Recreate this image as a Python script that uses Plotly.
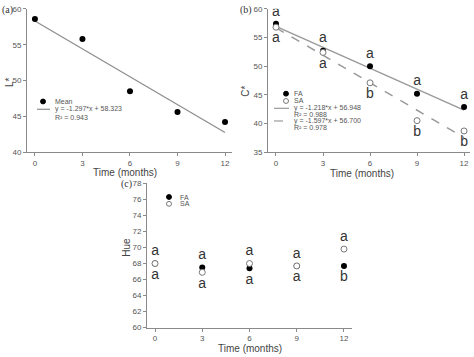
import plotly.graph_objects as go

# ---------------- data ----------------
months = [0, 3, 6, 9, 12]
month_ticks = ["0", "3", "6", "9", "12"]

# (a) L*
L_mean = [58.6, 55.8, 48.5, 45.6, 44.2]
L_fit = (-1.297, 58.323)
L_fit_label = "y = -1.297*x + 58.323"
L_r2_label = "R² = 0.943"

# (b) C*
C_FA = [57.4, 52.7, 50.0, 45.2, 42.9]
C_SA = [56.8, 52.4, 47.1, 40.5, 38.7]
C_FA_letters = ["a", "a", "a", "a", "a"]
C_SA_letters = ["a", "a", "b", "b", "b"]
C_FA_fit = (-1.218, 56.948)
C_SA_fit = (-1.597, 56.700)
C_FA_fit_label = "y = -1.218*x + 56.948"
C_FA_r2_label = "R² = 0.988"
C_SA_fit_label = "y = -1.597*x + 56.700"
C_SA_r2_label = "R² = 0.978"

# (c) Hue
H_FA = [68.0, 67.5, 67.4, 67.7, 67.7]
H_SA = [68.0, 66.9, 68.0, 67.7, 69.8]
H_FA_letters = ["a", "a", "a", "a", "b"]
H_SA_letters = ["a", "a", "a", "a", "a"]

W, H = 474, 357
FONT = "Liberation Sans, Arial, sans-serif"
SERIF = "Liberation Serif, Times New Roman, serif"
AX = "#8a8a8a"
TXT = "#555555"


def px(x):
    return x / W


def py(y):
    return 1 - y / H


fig = go.Figure()

# domains
dom = {
    "a": dict(x=[px(27), px(232)], y=[py(152), py(5)]),
    "b": dict(x=[px(268), px(470)], y=[py(152), py(5)]),
    "c": dict(x=[px(147), px(352)], y=[py(332), py(184)]),
}

fill_marker = dict(symbol="circle", size=6, color="black")
open_marker = dict(symbol="circle", size=6, color="white", line=dict(color="#777777", width=1))
letter_font = dict(family=FONT, size=14, color="#333333")

# ---- (a)
fig.add_trace(go.Scatter(x=[months[0], months[-1]],
                         y=[L_fit[0] * months[0] + L_fit[1], L_fit[0] * months[-1] + L_fit[1]],
                         mode="lines", line=dict(color="#8c8c8c", width=1.2),
                         xaxis="x", yaxis="y", showlegend=False))
fig.add_trace(go.Scatter(x=months, y=L_mean, mode="markers", marker=fill_marker,
                         xaxis="x", yaxis="y", showlegend=False))

# ---- (b)
fig.add_trace(go.Scatter(x=[months[0], months[-1]],
                         y=[C_FA_fit[0] * months[0] + C_FA_fit[1], C_FA_fit[0] * months[-1] + C_FA_fit[1]],
                         mode="lines", line=dict(color="#9a9a9a", width=1.5),
                         xaxis="x2", yaxis="y2", showlegend=False))
fig.add_trace(go.Scatter(x=[months[0], months[-1]],
                         y=[C_SA_fit[0] * months[0] + C_SA_fit[1], C_SA_fit[0] * months[-1] + C_SA_fit[1]],
                         mode="lines", line=dict(color="#9a9a9a", width=1.5, dash="dash"),
                         xaxis="x2", yaxis="y2", showlegend=False))
fig.add_trace(go.Scatter(x=months, y=C_FA, mode="markers+text", marker=fill_marker,
                         text=C_FA_letters, textposition="top center", textfont=letter_font,
                         xaxis="x2", yaxis="y2", showlegend=False))
fig.add_trace(go.Scatter(x=months, y=C_SA, mode="markers+text", marker=open_marker,
                         text=C_SA_letters, textposition="bottom center", textfont=letter_font,
                         xaxis="x2", yaxis="y2", showlegend=False))

# ---- (c)
fig.add_trace(go.Scatter(x=months, y=H_FA, mode="markers+text", marker=fill_marker,
                         text=H_FA_letters,
                         textposition=["bottom center", "top center", "bottom center", "bottom center", "bottom center"],
                         textfont=letter_font, xaxis="x3", yaxis="y3", showlegend=False))
fig.add_trace(go.Scatter(x=months, y=H_SA, mode="markers+text", marker=open_marker,
                         text=H_SA_letters,
                         textposition=["top center", "bottom center", "top center", "top center", "top center"],
                         textfont=letter_font, xaxis="x3", yaxis="y3", showlegend=False))


def xaxis(domain, rng, anchor):
    return dict(domain=domain, range=rng, anchor=anchor, tickvals=months, ticktext=month_ticks,
                showline=True, linecolor=AX, linewidth=1, ticks="outside", ticklen=3, tickcolor=AX,
                showgrid=False, zeroline=False, tickfont=dict(family=FONT, size=8, color=TXT))


def yaxis(domain, rng, dtick, anchor):
    return dict(domain=domain, range=rng, anchor=anchor, dtick=dtick,
                showline=True, linecolor=AX, linewidth=1, ticks="outside", ticklen=3, tickcolor=AX,
                showgrid=False, zeroline=False, tickfont=dict(family=FONT, size=8, color=TXT))


fig.update_layout(
    width=W, height=H, margin=dict(l=0, r=0, t=0, b=0),
    paper_bgcolor="white", plot_bgcolor="white",
    xaxis=xaxis(dom["a"]["x"], [-0.5, 12.44], "y"),
    yaxis=yaxis(dom["a"]["y"], [40, 60], 5, "x"),
    xaxis2=xaxis(dom["b"]["x"], [-0.51, 12.38], "y2"),
    yaxis2=yaxis(dom["b"]["y"], [35, 60], 5, "x2"),
    xaxis3=xaxis(dom["c"]["x"], [-0.51, 12.51], "y3"),
    yaxis3=yaxis(dom["c"]["y"], [60, 78], 2, "x3"),
)

ann = []
shapes = []


def text(x, y, s, size=7, color=TXT, family=FONT, anchor="left", angle=0):
    ann.append(dict(x=px(x), y=py(y), xref="paper", yref="paper", text=s, showarrow=False,
                    xanchor=anchor, yanchor="middle", textangle=angle,
                    font=dict(family=family, size=size, color=color)))


def dot(x, y, filled=True):
    r = 2.5
    shapes.append(dict(type="circle", xref="paper", yref="paper",
                       x0=px(x - r), x1=px(x + r), y0=py(y + r), y1=py(y - r),
                       fillcolor="black" if filled else "white",
                       line=dict(color="black" if filled else "#777777", width=1)))


def seg(x0, x1, y, dash="solid", color="#8c8c8c"):
    shapes.append(dict(type="line", xref="paper", yref="paper",
                       x0=px(x0), x1=px(x1), y0=py(y), y1=py(y),
                       line=dict(color=color, width=1.2, dash=dash)))


# panel labels
text(0, 6, "(a)", size=10, color="#333", family=SERIF)
text(238, 6, "(b)", size=10, color="#333", family=SERIF)
text(119, 185, "(c)", size=10, color="#333", family=SERIF)

# axis titles
text(125, 173, "Time (months)", size=10, color="#444", anchor="center")
text(362, 174, "Time (months)", size=10, color="#444", anchor="center")
text(250, 353, "Time (months)", size=10, color="#444", anchor="center")
text(10, 80, "L*", size=10, color="#444", anchor="center", angle=-90)
text(246, 90, "C*", size=10, color="#444", anchor="center", angle=-90)
text(127, 250, "Hue", size=10, color="#444", anchor="center", angle=-90)

# legend (a)
dot(43, 100)
text(53, 100, "Mean")
seg(37, 50, 108)
text(53, 108, L_fit_label)
text(53, 116, L_r2_label)

# legend (b)
dot(286, 92)
text(292, 92, "FA")
dot(286, 99.5, filled=False)
text(292, 99.5, "SA")
seg(274, 289, 107, color="#9a9a9a")
text(292, 107, C_FA_fit_label)
text(292, 113.5, C_FA_r2_label)
seg(274, 289, 120, dash="dash", color="#9a9a9a")
text(292, 120, C_SA_fit_label)
text(292, 127, C_SA_r2_label)

# legend (c)
dot(169, 198)
text(178, 198, "FA")
dot(169, 205, filled=False)
text(178, 205, "SA")

fig.update_layout(annotations=ann, shapes=shapes)
fig.write_html("out.html", config={"displayModeBar": False},
               post_script="document.body.style.margin='0';document.body.style.overflow='hidden';")
